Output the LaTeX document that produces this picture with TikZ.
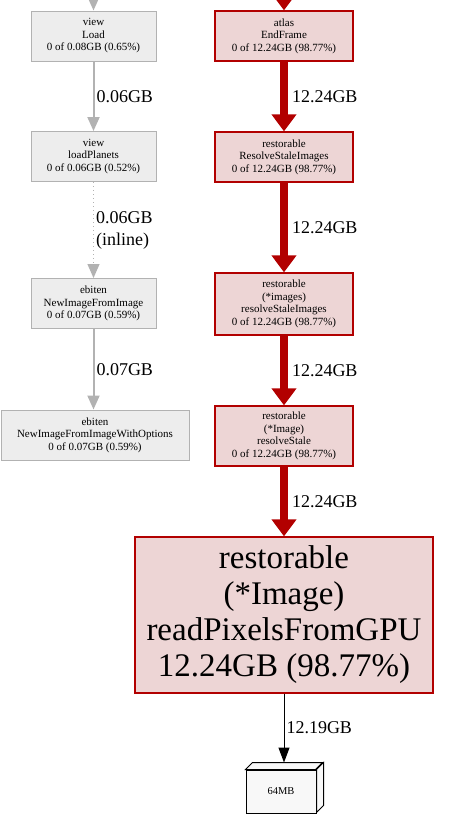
\documentclass[tikz,border=0pt]{standalone}
\usepackage{fontspec}
\setmainfont{Liberation Serif}
\usetikzlibrary{arrows.meta,calc}
\definecolor{grayfill}{HTML}{EDEDED}
\definecolor{grayline}{HTML}{B2B2B2}
\definecolor{redfill}{HTML}{EDD5D5}
\definecolor{redline}{HTML}{B20000}
\definecolor{memfill}{HTML}{F8F8F8}

\begin{document}
\begin{tikzpicture}[x=1pt,y=-1pt,
  box/.style={draw,line width=1pt,align=center,inner sep=0pt,font=\fontsize{11}{12.5}\selectfont},
  graybox/.style={box,draw=grayline,fill=grayfill,minimum width=125pt,minimum height=50pt},
  redbox/.style={box,draw=redline,fill=redfill,line width=1.3pt,minimum width=138pt},
  grayedge/.style={draw=grayline,line width=2pt,-{Triangle[width=12pt,length=14pt]}},
  rededge/.style={draw=redline,line width=8pt,-{Triangle[width=24pt,length=17pt]}},
  lbl/.style={right,inner sep=2pt,align=left,font=\fontsize{18}{22}\selectfont}]
  \useasboundingbox (0,0) rectangle (474,825);
  \clip (0,0) rectangle (474,825);

  % left chain
  \node[graybox] (load) at (93.5,36) {view\\Load\\0 of 0.08GB (0.65\%)};
  \node[graybox] (planets) at (93.5,156.5) {view\\loadPlanets\\0 of 0.06GB (0.52\%)};
  \node[graybox] (newimg) at (93.5,303.5) {ebiten\\NewImageFromImage\\0 of 0.07GB (0.59\%)};
  \node[graybox,minimum width=188pt] (withopts) at (95,435) {ebiten\\NewImageFromImageWithOptions\\0 of 0.07GB (0.59\%)};

  % right chain
  \node[redbox,minimum height=50pt] (endframe) at (284,36) {atlas\\EndFrame\\0 of 12.24GB (98.77\%)};
  \node[redbox,minimum height=50pt] (resolve) at (284,157) {restorable\\ResolveStaleImages\\0 of 12.24GB (98.77\%)};
  \node[redbox,minimum height=62pt] (images) at (284,304) {restorable\\(*images)\\resolveStaleImages\\0 of 12.24GB (98.77\%)};
  \node[redbox,minimum height=60pt] (stale) at (284,436) {restorable\\(*Image)\\resolveStale\\0 of 12.24GB (98.77\%)};
  \node[redbox,minimum width=298pt,minimum height=156pt,font=\fontsize{33}{36}\selectfont] (gpu) at (284,615)
    {restorable\\(*Image)\\readPixelsFromGPU\\12.24GB (98.77\%)};
  \node[draw,fill=memfill,line width=1pt,minimum width=70pt,minimum height=43pt,inner sep=0pt,
    font=\fontsize{10.5}{12}\selectfont] (mem) at (281,791.5) {64MB};
  \draw[fill=memfill,line width=1pt] (mem.north west) -- ++(7,-7) -- ++(70,0) -- ++(-7,7) -- cycle;
  \draw[fill=memfill,line width=1pt] (mem.north east) -- ++(7,-7) -- ++(0,43) -- ++(-7,7) -- cycle;

  \coordinate (intoload) at (93.5,-15);
  \coordinate (intoend) at (284,-20);

  \draw[grayedge] (intoload) -- (load);
  \draw[grayedge] (load) -- node[lbl] {0.06GB} (planets);
  \draw[grayedge,line width=1.3pt,dash pattern=on 1pt off 3pt] (planets) -- node[lbl] {0.06GB\\(inline)} (newimg);
  \draw[grayedge] (newimg) -- node[lbl] {0.07GB} (newimg |- withopts.north);

  \draw[rededge] (intoend) -- (endframe);
  \draw[rededge] (endframe) -- node[lbl,xshift=2pt] {12.24GB} (resolve);
  \draw[rededge] (resolve) -- node[lbl,xshift=2pt] {12.24GB} (images);
  \draw[rededge] (images) -- node[lbl,xshift=2pt] {12.24GB} (stale);
  \draw[rededge] (stale) -- node[lbl,xshift=2pt] {12.24GB} (gpu);
  \draw[line width=1pt,-{Triangle[width=11pt,length=15pt]}] (gpu) -- node[lbl] {12.19GB} ($(gpu.south |- mem.north)+(0,-7)$);
\end{tikzpicture}
\end{document}
